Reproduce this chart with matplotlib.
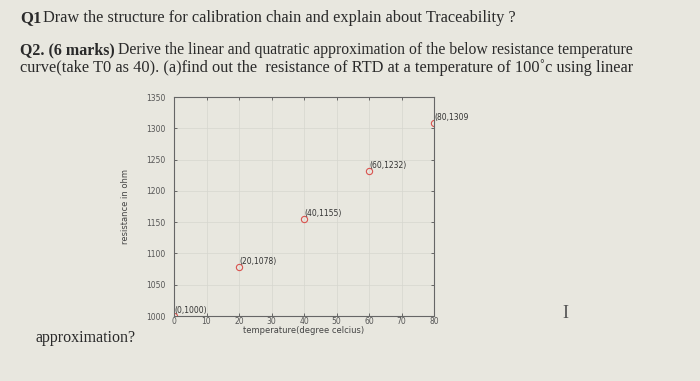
import matplotlib.pyplot as plt

# data points
temperature = [0, 20, 40, 60, 80]
resistance = [1000, 1078, 1155, 1232, 1309]
point_labels = ["(0,1000)", "(20,1078)", "(40,1155)", "(60,1232)", "(80,1309"]

x_ticks = [0, 10, 20, 30, 40, 50, 60, 70, 80]
y_ticks = [1000, 1050, 1100, 1150, 1200, 1250, 1300, 1350]

page = "#e8e7df"
ink = "#2a2a2a"

fig = plt.figure(figsize=(7.0, 3.81), dpi=100)
fig.patch.set_facecolor(page)

# question text around the chart
serif = "Liberation Serif"
fig.text(20/700, 1 - 18/381, "Q1", fontsize=12, family=serif, weight="bold",
         color=ink, va="center")
fig.text(43/700, 1 - 18/381, "Draw the structure for calibration chain and explain about Traceability ?",
         fontsize=11.8, family=serif, color=ink, va="center")
fig.text(20/700, 1 - 50/381, "Q2. (6 marks)", fontsize=11.5, family=serif, weight="bold",
         color=ink, va="center")
fig.text(118/700, 1 - 50/381,
         "Derive the linear and quatratic approximation of the below resistance temperature",
         fontsize=11.3, family=serif, color=ink, va="center")
fig.text(20/700, 1 - 68/381,
         "curve(take T0 as 40). (a)find out the  resistance of RTD at a temperature of 100\u02dac using linear",
         fontsize=11.8, family=serif, color=ink, va="center")
fig.text(35/700, 1 - 338/381, "approximation?", fontsize=11.5, family=serif,
         color=ink, va="center")
fig.text(565/700, 1 - 314/381, "I", fontsize=13, family=serif, color="#555555",
         va="center", ha="center")

ax = fig.add_axes([174/700, 1 - 316/381, 260/700, 219/381])
ax.set_facecolor(page)
ax.plot(temperature, resistance, "o", mfc="none", mec="#d9534f", ms=4.5, mew=0.8)
for t, r, lab in zip(temperature, resistance, point_labels):
    ax.annotate(lab, (t, r), xytext=(0, 0.5), textcoords="offset points",
                fontsize=5.5, color="#333333", ha="left", va="bottom")

ax.set_xlim(0, 80)
ax.set_ylim(1000, 1350)
ax.set_xticks(x_ticks)
ax.set_yticks(y_ticks)
ax.tick_params(direction="in", top=True, right=True, labelsize=5.5,
               colors="#555555", length=2.5, width=0.6)
ax.tick_params(axis="x", pad=1)
ax.tick_params(axis="y", pad=6)
ax.grid(True, color="#d6d6cf", linewidth=0.5)
for s in ax.spines.values():
    s.set_color("#666666")
    s.set_linewidth(0.8)

ax.set_xlabel("temperature(degree celcius)", fontsize=6, color="#444444", labelpad=0)
ax.set_ylabel("resistance in ohm", fontsize=6, color="#444444", labelpad=12)

fig.savefig("out.png", dpi=100, facecolor=page)
